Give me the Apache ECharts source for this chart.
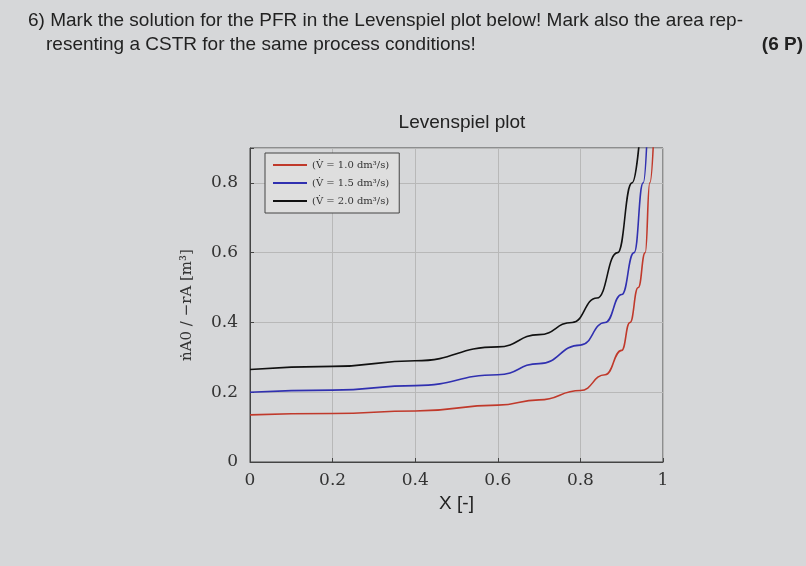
<!DOCTYPE html>
<html>
<head>
<meta charset="utf-8">
<script src="https://cdn.jsdelivr.net/npm/echarts@6/dist/echarts.min.js"></script>
<style>
  body { margin: 0; background: #d6d7d9; font-family: "Liberation Sans", Arial, sans-serif; }
  #q { position: absolute; left: 28px; top: 8px; width: 775px; font-size: 19px; color: #222; line-height: 24px; }
  #main { position: absolute; left: 0; top: 0; width: 806px; height: 566px; }
</style>
</head>
<body>
<div id="main"></div>
<div id="q">6) Mark the solution for the PFR in the Levenspiel plot below! Mark also the area rep-<br>
<span style="padding-left:18px">resenting a CSTR for the same process conditions!</span><span style="float:right;font-weight:bold">(6 P)</span></div>
<script>
const seriesNames = ['(V̇ = 1.0 dm³/s)', '(V̇ = 1.5 dm³/s)', '(V̇ = 2.0 dm³/s)'];
const seriesColors = ['#c0392b', '#3030b0', '#111111'];

// conversion X and ṅA0/(-rA)
const xRed   = [0, 0.2, 0.4, 0.6, 0.7, 0.8, 0.86, 0.9, 0.92, 0.94, 0.957, 0.968, 0.978];
const yRed   = [0.135, 0.139, 0.146, 0.163, 0.178, 0.205, 0.25, 0.32, 0.4, 0.5, 0.6, 0.8, 0.95];
const xBlue  = [0, 0.2, 0.4, 0.6, 0.7, 0.8, 0.86, 0.9, 0.93, 0.952, 0.962];
const yBlue  = [0.2, 0.206, 0.219, 0.25, 0.282, 0.335, 0.4, 0.48, 0.6, 0.8, 0.95];
const xBlack = [0, 0.2, 0.4, 0.6, 0.7, 0.78, 0.84, 0.89, 0.925, 0.945];
const yBlack = [0.265, 0.274, 0.29, 0.33, 0.365, 0.4, 0.47, 0.6, 0.8, 0.95];

const xTicks = [0, 0.2, 0.4, 0.6, 0.8, 1];
const yTicks = [0, 0.2, 0.4, 0.6, 0.8];

const pairs = (xs, ys) => xs.map((x, i) => [x, ys[i]]);
const allData = [pairs(xRed, yRed), pairs(xBlue, yBlue), pairs(xBlack, yBlack)];

const chart = echarts.init(document.getElementById('main'));
chart.setOption({
    animation: false,
    title: { text: 'Levenspiel plot', left: 457, top: 108, textAlign: 'center',
        textStyle: { fontSize: 19, fontWeight: 'normal', color: '#222' } },
    grid: { left: 250, right: 143, top: 148, bottom: 104, show: true, borderColor: '#444', borderWidth: 1 },
    legend: {
        left: 265, top: 153, orient: 'vertical', itemGap: 8, itemWidth: 34, itemHeight: 2,
        backgroundColor: '#dedede', borderColor: '#444', borderWidth: 1, padding: [7, 10, 7, 8],
        textStyle: { fontSize: 10, color: '#333', fontFamily: 'DejaVu Serif' },
        data: seriesNames.map(n => ({ name: n, icon: 'rect' }))
    },
    xAxis: {
        type: 'value', min: 0, max: 1, interval: 0.2,
        name: 'X [-]', nameLocation: 'middle', nameGap: 32,
        nameTextStyle: { fontSize: 19, color: '#222', fontFamily: 'Liberation Sans' },
        axisLine: { lineStyle: { color: '#444' } },
        axisTick: { inside: true, length: 4 },
        axisLabel: { fontSize: 17, color: '#333', fontFamily: 'DejaVu Serif', margin: 10,
            formatter: v => xTicks.includes(+v.toFixed(1)) ? String(+v.toFixed(1)) : '' },
        splitLine: { lineStyle: { color: '#b8b8b8' } }
    },
    yAxis: {
        type: 'value', min: 0, max: 0.9, interval: 0.2,
        name: 'ṅA0 / −rA [m³]', nameLocation: 'middle', nameGap: 55, nameRotate: 90,
        nameTextStyle: { fontSize: 15, color: '#333', fontFamily: 'DejaVu Serif' },
        axisLine: { show: true, lineStyle: { color: '#444' } },
        axisTick: { inside: true, length: 4 },
        axisLabel: { fontSize: 17, color: '#333', fontFamily: 'DejaVu Serif', margin: 12,
            formatter: v => yTicks.includes(+v.toFixed(1)) ? String(+v.toFixed(1)) : '' },
        splitLine: { lineStyle: { color: '#b8b8b8' } }
    },
    series: seriesNames.map((name, i) => ({
        name: name, type: 'line', smooth: 0.5, smoothMonotone: 'x', showSymbol: false, clip: true,
        itemStyle: { color: seriesColors[i] },
        lineStyle: { width: 1.6, color: seriesColors[i] },
        data: allData[i]
    }))
});
window.onresize = () => chart.resize();
</script>
</body>
</html>
